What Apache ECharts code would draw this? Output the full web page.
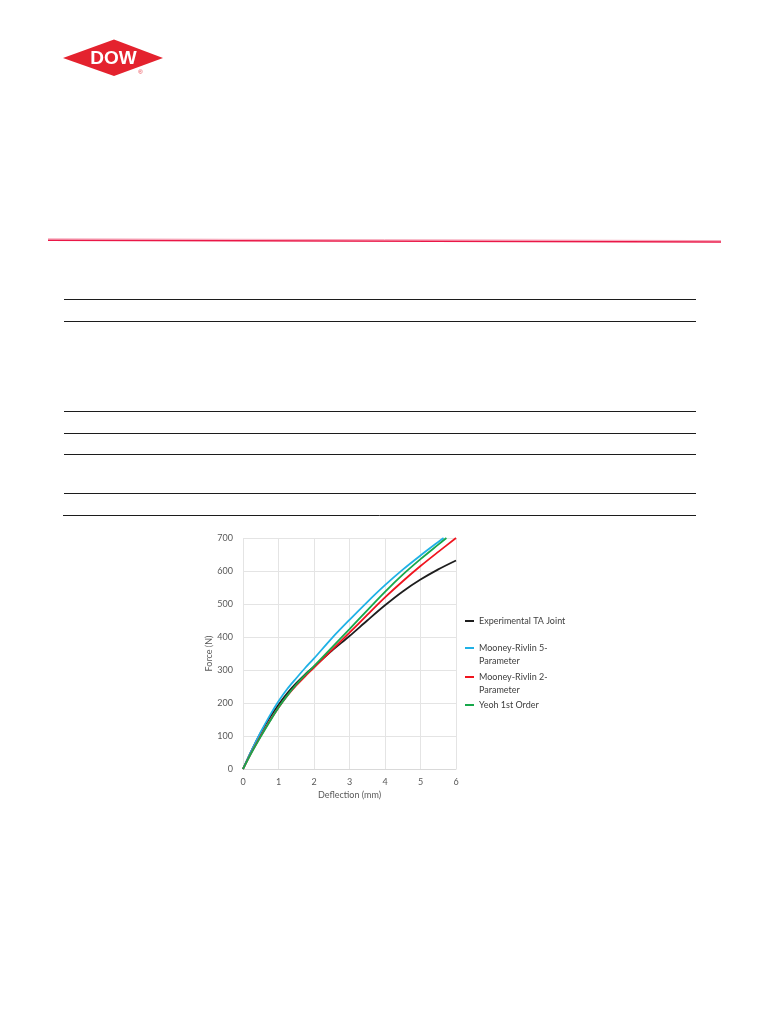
<!DOCTYPE html>
<html>
<head>
<meta charset="utf-8">
<script src="https://cdn.jsdelivr.net/npm/echarts@6/dist/echarts.min.js"></script>
<style>
html,body{margin:0;padding:0;background:#fff;}
#main{width:768px;height:1024px;}
</style>
</head>
<body>
<div id="main"></div>
<script>
// ---- data ----
const xTicks = [0, 1, 2, 3, 4, 5, 6];
const yTicks = [0, 100, 200, 300, 400, 500, 600, 700];
const seriesNames = ['Experimental TA Joint', 'Mooney-Rivlin 5-\nParameter', 'Mooney-Rivlin 2-\nParameter', 'Yeoh 1st Order'];

const expX   = [0, 0.25, 0.5, 0.75, 1, 1.25, 1.5, 1.75, 2, 2.5, 3, 3.5, 4, 4.5, 5, 5.5, 6];
const expY   = [0, 58, 110, 155, 195, 230, 260, 287, 310, 358, 403, 450, 496, 538, 574, 605, 632];

const mr5X   = [0, 0.25, 0.5, 0.75, 1, 1.25, 1.5, 1.75, 2, 2.5, 3, 3.5, 4, 4.5, 5, 5.5, 5.65];
const mr5Y   = [0, 58, 112, 161, 205, 243, 275, 306, 335, 396, 452, 506, 557, 604, 647, 688, 700];

const mr2X   = [0, 0.25, 0.5, 0.75, 1, 1.25, 1.5, 1.75, 2, 2.5, 3, 3.5, 4, 4.5, 5, 5.5, 6];
const mr2Y   = [0, 52, 100, 145, 186, 222, 253, 281, 307, 360, 413, 467, 520, 569, 615, 658, 700];

const yeohX  = [0, 0.25, 0.5, 0.75, 1, 1.25, 1.5, 1.75, 2, 2.5, 3, 3.5, 4, 4.5, 5, 5.5, 5.73];
const yeohY  = [0, 51, 98, 143, 186, 223, 256, 285, 312, 368, 424, 481, 537, 589, 636, 680, 700];

const colors = ['#1e1e1e', '#1fb1e6', '#f0141e', '#17a84b'];

function pairs(xs, ys) { return xs.map((x, i) => [x, ys[i]]); }

const chart = echarts.init(document.getElementById('main'), null, {renderer: 'canvas'});

const font = 'Lato, "Open Sans", "Liberation Sans", sans-serif';
const legendTops = [614.5, 628.5, 657.5, 698.5];

const legends = seriesNames.map((n, i) => ({
  data: [n],
  left: 465,
  top: legendTops[i],
  padding: 0,
  orient: 'vertical',
  icon: 'rect',
  itemWidth: 9,
  itemHeight: 2,
  itemGap: 5,
  selectedMode: false,
  // multi-line entries: keep the key beside the first text line, as in the reference
  formatter: name => (name.indexOf('\n') >= 0 ? ' \n' + name : name),
  textStyle: {
    color: '#404040',
    fontFamily: font,
    fontSize: 9,
    lineHeight: 13
  }
}));

const tableLines = [299.5, 321.5, 411.5, 433.5, 454.5, 493.5, 515.5];

const graphics = [
  // Dow logo
  {type: 'polygon', shape: {points: [[63, 58], [114, 39.5], [163, 58], [114, 76]]}, style: {fill: '#e4222e'}},
  {type: 'text', x: 113.5, y: 58.5, style: {text: 'DOW', fill: '#fff', font: 'bold 19px "Liberation Sans", Arial, sans-serif', align: 'center', verticalAlign: 'middle'}},
  {type: 'text', x: 140.5, y: 72.5, style: {text: '®', fill: '#e4222e', font: '6px "Liberation Sans", sans-serif', align: 'center', verticalAlign: 'middle'}},
  // red rule
  {type: 'line', shape: {x1: 48, y1: 238.8, x2: 721, y2: 240.6}, style: {stroke: '#f7a3b7', lineWidth: 1}},
  {type: 'line', shape: {x1: 48, y1: 240.2, x2: 721, y2: 242}, style: {stroke: '#ea1747', lineWidth: 1.6}}
];
tableLines.forEach((y, i) => {
  graphics.push({type: 'line', shape: {x1: i === tableLines.length - 1 ? 63 : 64, y1: y, x2: 696, y2: y}, style: {stroke: '#1c1c1c', lineWidth: 1}});
});

const option = {
  backgroundColor: '#ffffff',
  animation: false,
  color: colors,
  graphic: graphics,
  legend: legends,
  grid: {left: 243, top: 538, width: 213, height: 231, containLabel: false},
  xAxis: {
    type: 'value', min: xTicks[0], max: xTicks[xTicks.length - 1], interval: 1,
    name: 'Deflection (mm)', nameLocation: 'middle', nameGap: 22,
    nameTextStyle: {color: '#595959', fontFamily: font, fontSize: 9},
    axisLine: {show: true, lineStyle: {color: '#d9d9d9', width: 1}},
    axisTick: {show: false},
    axisLabel: {color: '#595959', fontFamily: font, fontSize: 9, margin: 9},
    splitLine: {show: true, lineStyle: {color: '#e4e4e4', width: 1}}
  },
  yAxis: {
    type: 'value', min: yTicks[0], max: yTicks[yTicks.length - 1], interval: 100,
    name: 'Force (N)', nameLocation: 'middle', nameGap: 28, nameRotate: 90,
    nameTextStyle: {color: '#595959', fontFamily: font, fontSize: 9},
    axisLine: {show: false},
    axisTick: {show: false},
    axisLabel: {color: '#595959', fontFamily: font, fontSize: 9, margin: 10},
    splitLine: {show: true, lineStyle: {color: '#e4e4e4', width: 1}}
  },
  series: [
    {name: seriesNames[0], type: 'line', data: pairs(expX, expY)},
    {name: seriesNames[1], type: 'line', data: pairs(mr5X, mr5Y)},
    {name: seriesNames[2], type: 'line', data: pairs(mr2X, mr2Y)},
    {name: seriesNames[3], type: 'line', data: pairs(yeohX, yeohY)}
  ].map((s, i) => Object.assign(s, {
    smooth: 0.3, showSymbol: false, symbol: 'none',
    lineStyle: {width: 1.8, color: colors[i]},
    itemStyle: {color: colors[i]},
    clip: true
  }))
};

chart.setOption(option);
</script>
</body>
</html>
